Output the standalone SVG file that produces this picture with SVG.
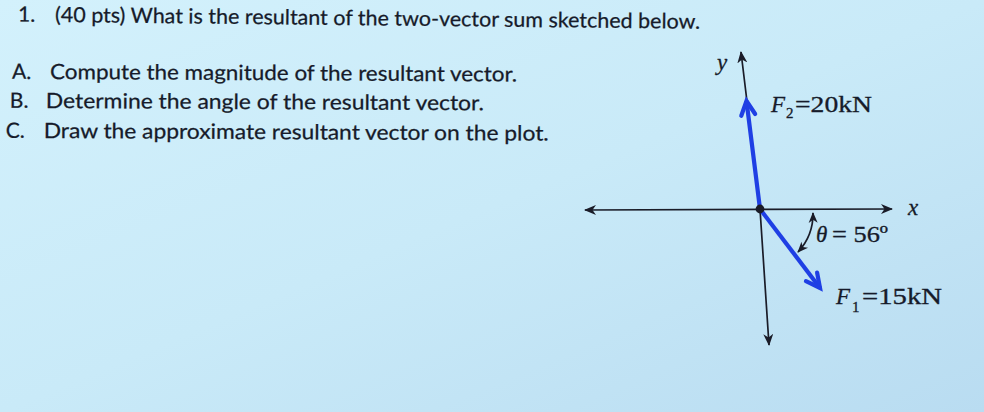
<svg xmlns="http://www.w3.org/2000/svg" width="984" height="412" viewBox="0 0 984 412">
  <defs>
    <linearGradient id="bg" x1="0" y1="0" x2="1" y2="1">
      <stop offset="0" stop-color="#d3f1fc"/>
      <stop offset="0.5" stop-color="#c9eaf8"/>
      <stop offset="1" stop-color="#b9dcf1"/>
    </linearGradient>
    <marker id="axisHead" viewBox="0 0 12 10" refX="11" refY="5" markerWidth="12" markerHeight="10" markerUnits="userSpaceOnUse" orient="auto-start-reverse">
      <path d="M0,0 L12,5 L0,10 L3.5,5 Z" fill="#1a1c28"/>
    </marker>
    <marker id="arcHead" viewBox="0 0 12 10" refX="11" refY="5" markerWidth="11" markerHeight="9" markerUnits="userSpaceOnUse" orient="auto-start-reverse" overflow="visible">
      <path d="M0,0 L12,5 L0,10 L3.5,5 Z" fill="#1a1c28"/>
    </marker>
    <marker id="blueHead" viewBox="0 0 16 18" refX="15" refY="9" markerWidth="16" markerHeight="18" markerUnits="userSpaceOnUse" orient="auto" overflow="visible">
      <path d="M1,2 L15,9 L1,16" fill="none" stroke="#1f3fe4" stroke-width="4.2" stroke-linecap="round" stroke-linejoin="miter"/>
    </marker>
  </defs>
  <style>
    .q { font-family: Lato, "Open Sans", "Liberation Sans", sans-serif; font-size: 21px; fill: #161b2a; stroke: #161b2a; stroke-width: 0.25px; }
    .m { font-family: "Liberation Serif", "DejaVu Serif", serif; font-size: 23px; fill: #161b2a; stroke: #161b2a; stroke-width: 0.3px; }
    .it { font-style: italic; }
    .sub { font-size: 15px; }
    .axis { stroke: #1a1c28; stroke-width: 1.7; fill: none; }
    .vec { stroke: #1f3fe4; stroke-width: 4.2; fill: none; stroke-linecap: butt; }
  </style>

  <rect width="984" height="412" fill="url(#bg)"/>

  <g id="question">
    <g transform="rotate(0.6 55 22)">
      <text class="q" x="18" y="22">1.</text>
      <text class="q" x="55" y="22" textLength="645" lengthAdjust="spacingAndGlyphs">(40 pts) What is the resultant of the two-vector sum sketched below.</text>
    </g>
    <g transform="rotate(0.3 50 79)">
      <text class="q" x="12" y="79">A.</text>
      <text class="q" x="50" y="79" textLength="467" lengthAdjust="spacingAndGlyphs">Compute the magnitude of the resultant vector.</text>
      <text class="q" x="10" y="108">B.</text>
      <text class="q" x="46" y="108" textLength="438" lengthAdjust="spacingAndGlyphs">Determine the angle of the resultant vector.</text>
      <text class="q" x="6" y="138">C.</text>
      <text class="q" x="44" y="138" textLength="505" lengthAdjust="spacingAndGlyphs">Draw the approximate resultant vector on the plot.</text>
    </g>
  </g>

  <g id="connectors">
    <g id="x-axis">
      <line class="axis" x1="585" y1="210" x2="892" y2="209" marker-start="url(#axisHead)" marker-end="url(#axisHead)"/>
    </g>
    <g id="y-axis">
      <polyline class="axis" points="741,52 760,209 769,345" marker-start="url(#axisHead)" marker-end="url(#axisHead)"/>
    </g>
    <g id="F2-vector">
      <line class="vec" x1="760" y1="209" x2="746.5" y2="101" marker-end="url(#blueHead)"/>
    </g>
    <g id="F1-vector">
      <line class="vec" x1="760" y1="209" x2="820" y2="288" marker-end="url(#blueHead)"/>
    </g>
    <g id="theta-arc">
      <path class="axis" d="M 813 213 A 56 56 0 0 1 798 252" marker-start="url(#arcHead)" marker-end="url(#arcHead)"/>
    </g>
  </g>

  <g id="origin">
    <circle cx="760" cy="209" r="4.4" fill="#1a1c28"/>
  </g>

  <g id="labels">
    <g id="label-y"><text class="m it" x="717" y="70" font-size="24">y</text></g>
    <g id="label-x"><text class="m it" x="908" y="215" font-size="26">x</text></g>
    <g id="label-F2">
      <text class="m"><tspan class="it" x="771" y="112">F</tspan><tspan class="sub" x="786" y="118">2</tspan><tspan x="795" y="112" textLength="77" lengthAdjust="spacingAndGlyphs">=20kN</tspan></text>
    </g>
    <g id="label-theta">
      <text class="m"><tspan class="it" x="816" y="242">θ</tspan><tspan x="832" y="242" textLength="56" lengthAdjust="spacingAndGlyphs">= 56º</tspan></text>
    </g>
    <g id="label-F1">
      <text class="m" font-size="25"><tspan class="it" x="836" y="304">F</tspan><tspan class="sub" x="852" y="312" font-size="16">1</tspan><tspan x="862" y="304" textLength="80" lengthAdjust="spacingAndGlyphs">=15kN</tspan></text>
    </g>
  </g>
</svg>
